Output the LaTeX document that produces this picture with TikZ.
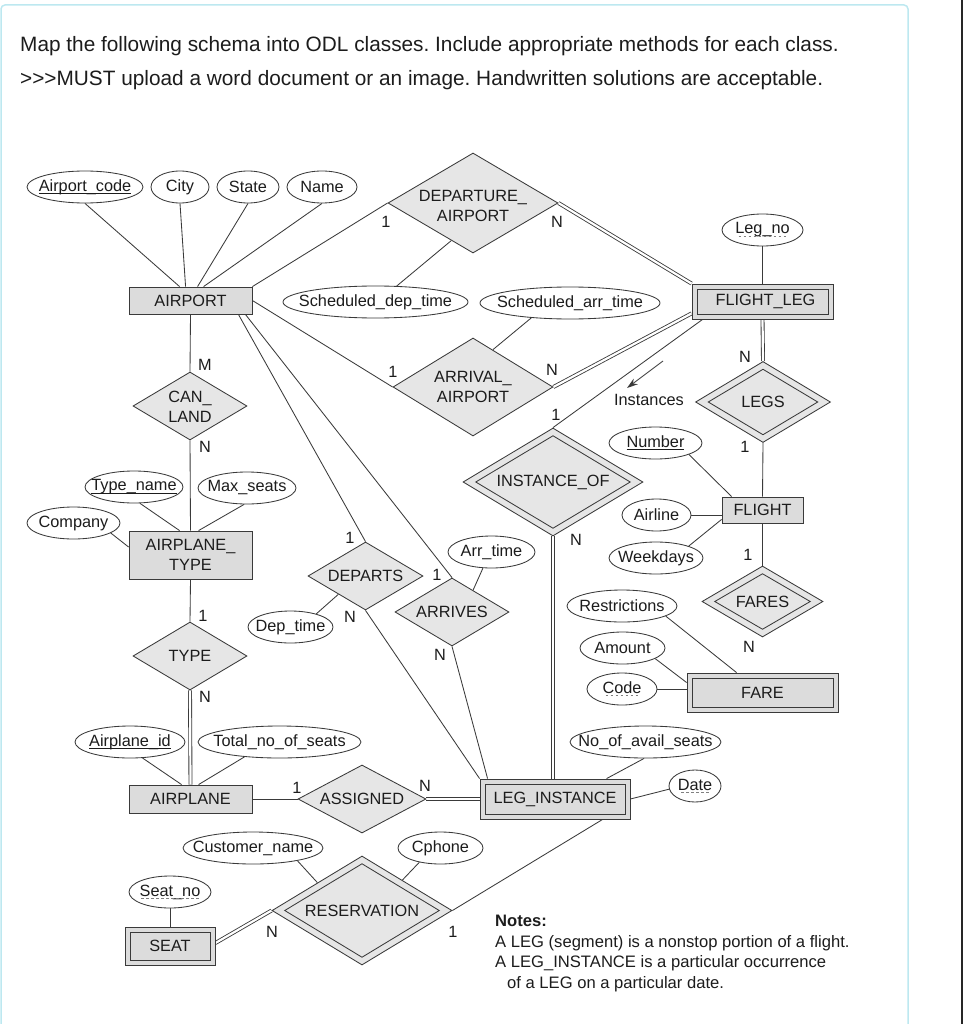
\documentclass[tikz,border=0pt]{standalone}
\usepackage{fontspec}
\setmainfont{Liberation Sans}
\usetikzlibrary{shapes.geometric,arrows.meta,backgrounds}

\definecolor{linec}{HTML}{3A3A3A}
\definecolor{txtc}{HTML}{1C1C1C}
\definecolor{entfill}{HTML}{DCDCDC}
\definecolor{relfill}{HTML}{E6E6E6}
\definecolor{framec}{HTML}{BDE8F0}

\newcommand{\dfont}{\fontsize{16.3pt}{20.5pt}\selectfont}
\newcommand{\hfont}{\fontsize{20.8pt}{24pt}\selectfont}
\newcommand{\nfont}{\fontsize{16.6pt}{20.5pt}\selectfont}
% solid and dashed underlines
\newcommand{\keyul}[1]{\setbox0\hbox{#1}\copy0\llap{\vrule height -2pt depth 2.9pt width\wd0}}
\newcommand{\pkeyul}[1]{\setbox0\hbox{#1}\copy0\llap{\hbox to\wd0{\color{gray}\cleaders\hbox{\kern1.1pt\vrule height -2pt depth 2.9pt width 2.8pt\kern1.1pt}\hfill}}}

\begin{document}
\frenchspacing
\begin{tikzpicture}[x=1pt,y=-1pt,
  every node/.style={text=txtc},
  lbl/.style={font=\dfont, align=center, inner sep=0pt},
  attr/.style={ellipse, draw=linec, fill=white, line width=0.85pt, inner sep=0pt, minimum height=32pt},
  entity/.style={rectangle, draw=linec, fill=entfill, line width=0.85pt, inner sep=0pt},
  wentity/.style={entity, path picture={\draw[linec, line width=0.85pt]
      ([shift={(5pt,-5pt)}]path picture bounding box.north west) rectangle
      ([shift={(-5pt,5pt)}]path picture bounding box.south east);}},
  rel/.style={diamond, draw=linec, fill=relfill, line width=0.85pt, inner sep=0pt},
  wrel/.style={rel, path picture={\draw[linec, line width=0.85pt]
      ([xshift=12.6pt]path picture bounding box.west) --
      ([yshift=-7.6pt]path picture bounding box.north) --
      ([xshift=-12.6pt]path picture bounding box.east) --
      ([yshift=7.6pt]path picture bounding box.south) -- cycle;}},
  conn/.style={draw=linec, line width=0.85pt},
  dbl/.style={conn, double=white, double distance=2.2pt},
  card/.style={font=\dfont, inner sep=0pt},
  note/.style={font=\nfont, inner sep=0pt, anchor=base west},
]
\useasboundingbox (0,0) rectangle (965,1024);

% frame
\draw[framec, line width=1.5pt, rounded corners=4pt] (1,5) rectangle (908,1040);
\draw[black!85, line width=2pt] (962,0) -- (962,1024);

% header
\node[anchor=west, font=\hfont, inner sep=0pt] (h1) at (20,46) {Map the following schema into ODL classes. Include appropriate methods for each class.};
\node[anchor=west, font=\hfont, inner sep=0pt] (h2) at (20,80) {>{}>{}>MUST upload a word document or an image. Handwritten solutions are acceptable.};

% entities
\node[entity, minimum width=123pt, minimum height=27pt, label={[lbl]center:{AIRPORT}}] (airport) at (190.5,300.5) {};
\node[wentity, minimum width=141pt, minimum height=35pt, label={[lbl, xshift=3pt]center:{FLIGHT\_LEG}}] (fl) at (762.5,301.5) {};
\node[entity, minimum width=123pt, minimum height=48pt, label={[lbl]center:{AIRPLANE\_\\TYPE}}] (apt) at (190.5,555) {};
\node[entity, minimum width=81pt, minimum height=26pt, label={[lbl]center:{FLIGHT}}] (flight) at (762.5,510) {};
\node[wentity, minimum width=151pt, minimum height=39pt, label={[lbl]center:{FARE}}] (fare) at (762.5,692.5) {};
\node[entity, minimum width=123pt, minimum height=28pt, label={[lbl]center:{AIRPLANE}}] (airplane) at (190.5,799) {};
\node[wentity, minimum width=150pt, minimum height=40pt, label={[lbl]center:{LEG\_INSTANCE}}] (li) at (555,799) {};
\node[wentity, minimum width=90pt, minimum height=38pt, label={[lbl]center:{SEAT}}] (seat) at (170,946) {};

% relationships
\node[rel, minimum width=170pt, minimum height=100pt, label={[lbl, yshift=-3pt]center:{DEPARTURE\_\\AIRPORT}}] (dep) at (473,203) {};
\node[rel, minimum width=160pt, minimum height=98pt, label={[lbl]center:{ARRIVAL\_\\AIRPORT}}] (arr) at (473,387) {};
\node[rel, minimum width=114pt, minimum height=68pt, label={[lbl, yshift=-1pt]center:{CAN\_\\LAND}}] (canland) at (190,406) {};
\node[rel, minimum width=114pt, minimum height=68pt, label={[lbl]center:{TYPE}}] (type) at (190,656) {};
\node[rel, minimum width=115pt, minimum height=68pt, label={[lbl]center:{DEPARTS}}] (departs) at (365.5,576) {};
\node[rel, minimum width=114pt, minimum height=68pt, label={[lbl]center:{ARRIVES}}] (arrives) at (452,612) {};
\node[rel, minimum width=128pt, minimum height=68pt, label={[lbl]center:{ASSIGNED}}] (assigned) at (362,799) {};
\node[wrel, minimum width=135pt, minimum height=81pt, label={[lbl]center:{LEGS}}] (legs) at (763,402) {};
\node[wrel, minimum width=180pt, minimum height=108pt, label={[lbl]center:{INSTANCE\_OF}}] (io) at (553,482) {};
\node[wrel, minimum width=121pt, minimum height=71pt, label={[lbl]center:{FARES}}] (fares) at (762.5,601.5) {};
\node[wrel, minimum width=180pt, minimum height=109pt, label={[lbl]center:{RESERVATION}}] (res) at (362,910.5) {};

% attributes
\node[attr, minimum width=116pt, label={[lbl]center:{\keyul{Airport\_code}}}] (aircode) at (85,187) {};
\node[attr, minimum width=58pt, label={[lbl]center:{City}}] (city) at (180,187) {};
\node[attr, minimum width=62pt, label={[lbl]center:{State}}] (state) at (248,187) {};
\node[attr, minimum width=70pt, label={[lbl]center:{Name}}] (name) at (322,187) {};
\node[attr, minimum width=185pt, label={[lbl]center:{Scheduled\_dep\_time}}] (sdt) at (375.5,302) {};
\node[attr, minimum width=180pt, label={[lbl]center:{Scheduled\_arr\_time}}] (sarr) at (570,303) {};
\node[attr, minimum width=81pt, label={[lbl]center:{\pkeyul{Leg\_no}}}] (legno) at (762.5,230) {};
\node[attr, minimum width=98pt, label={[lbl]center:{\keyul{Type\_name}}}] (tname) at (134,487) {};
\node[attr, minimum width=98pt, label={[lbl]center:{Max\_seats}}] (maxs) at (247,488) {};
\node[attr, minimum width=93pt, label={[lbl]center:{Company}}] (company) at (73.5,523) {};
\node[attr, minimum width=85pt, label={[lbl]center:{Dep\_time}}] (dept) at (290.5,627) {};
\node[attr, minimum width=87pt, label={[lbl]center:{Arr\_time}}] (arrt) at (491.5,552) {};
\node[attr, minimum width=93pt, label={[lbl]center:{\keyul{Number}}}] (number) at (655.5,443) {};
\node[attr, minimum width=69pt, label={[lbl]center:{Airline}}] (airline) at (656.5,515) {};
\node[attr, minimum width=94pt, label={[lbl]center:{Weekdays}}] (weekdays) at (656,558) {};
\node[attr, minimum width=110pt, label={[lbl]center:{Restrictions}}] (restr) at (622,606) {};
\node[attr, minimum width=85pt, label={[lbl]center:{Amount}}] (amount) at (622.5,648) {};
\node[attr, minimum width=70pt, label={[lbl]center:{\pkeyul{Code}}}] (code) at (622,689) {};
\node[attr, minimum width=110pt, label={[lbl]center:{\keyul{Airplane\_id}}}] (apid) at (130,742) {};
\node[attr, minimum width=163pt, label={[lbl]center:{Total\_no\_of\_seats}}] (tot) at (279.5,742) {};
\node[attr, minimum width=151pt, label={[lbl]center:{No\_of\_avail\_seats}}] (noas) at (645.5,742) {};
\node[attr, minimum width=52pt, label={[lbl]center:{\pkeyul{Date}}}] (date) at (695,786) {};
\node[attr, minimum width=140pt, label={[lbl]center:{Customer\_name}}] (cname) at (253,848) {};
\node[attr, minimum width=85pt, label={[lbl]center:{Cphone}}] (cphone) at (440.5,848) {};
\node[attr, minimum width=82pt, label={[lbl]center:{\pkeyul{Seat\_no}}}] (seatno) at (170,892) {};

% cardinalities
\node[card] (c1) at (386,222) {1};
\node[card] (c2) at (557,222) {N};
\node[card] (c3) at (393,372) {1};
\node[card] (c4) at (552,370) {N};
\node[card] (c5) at (205,365) {M};
\node[card] (c6) at (205,447) {N};
\node[card] (c7) at (203,616) {1};
\node[card] (c8) at (205,697) {N};
\node[card] (c9) at (350,538) {1};
\node[card] (c10) at (350,617) {N};
\node[card] (c11) at (437,575) {1};
\node[card] (c12) at (440,655) {N};
\node[card] (c13) at (556,415) {1};
\node[card] (c14) at (576,540) {N};
\node[card] (c15) at (745,357) {N};
\node[card] (c16) at (745,447) {1};
\node[card] (c17) at (748,555) {1};
\node[card] (c18) at (749,647) {N};
\node[card] (c19) at (297,788) {1};
\node[card] (c20) at (425,786) {N};
\node[card] (c21) at (272,932) {N};
\node[card] (c22) at (453,932) {1};

% instances arrow
\coordinate (insA) at (663,361);
\coordinate (insB) at (627,388);
\draw[conn, -{Stealth[length=11pt, width=7pt]}] (insA) -- (insB);
\node[card] (inst) at (649,400) {Instances};

% notes
\node[note, font=\nfont\bfseries] (n1) at (495,926.5) {Notes:};
\node[note] (n2) at (495,947) {A LEG (segment) is a nonstop portion of a flight.};
\node[note] (n3) at (495,967.5) {A LEG\_INSTANCE is a particular occurrence};
\node[note] (n4) at (507,988) {of a LEG on a particular date.};

% connectors
\begin{scope}[on background layer]
\draw[conn] (aircode.south) -- ([xshift=51pt]airport.north west);
\draw[conn] (city.south) -- ([xshift=57pt]airport.north west);
\draw[conn] (state.south) -- ([xshift=69pt]airport.north west);
\draw[conn] (name.south) -- ([xshift=75pt]airport.north west);
\draw[conn] (airport.north east) -- (dep.west);
\draw[conn] (sdt.37) -- (dep.240);
\draw[dbl] (dep.east) -- (fl.north west);
\draw[conn] (legno.south) -- (fl.north);
\draw[conn] (sarr.201) -- (arr.62);
\draw[conn] (airport.east) -- (arr.west);
\draw[dbl] (arr.east) -- ([yshift=6pt]fl.south west);
\draw[conn] ([xshift=11pt]fl.south west) -- (io.north);
\draw[dbl] (fl.south) -- (legs.north);
\draw[conn] (legs.south) -- (flight.north);
\draw[conn] (number.-19) -- ([xshift=10pt]flight.north west);
\draw[conn] (airline.east) -- (airline.east -| flight.west);
\draw[conn] (weekdays.20) -- ([yshift=4pt]flight.south west);
\draw[conn] (flight.south) -- (fares.north);
\draw[dbl] (fares.south) -- (fare.north);
\draw[conn] (restr.-13) -- ([xshift=50pt]fare.north west);
\draw[conn] (amount.-18) -- ([yshift=10pt]fare.west);
\draw[conn] (code.east) -- (code.east -| fare.west);
\draw[conn] ([xshift=-14pt]airport.south east) -- (departs.north);
\draw[conn] ([xshift=-7pt]airport.south east) -- (arrives.north);
\draw[conn] (airport.south) -- (canland.north);
\draw[conn] (canland.south) -- (apt.north);
\draw[conn] (tname.-70) -- ([xshift=51pt]apt.north west);
\draw[conn] (maxs.-100) -- ([xshift=70pt]apt.north west);
\draw[conn] (company.-15) -- ([yshift=8pt]apt.west);
\draw[conn] (apt.south) -- (type.north);
\draw[dbl] (type.south) -- (airplane.north);
\draw[conn] (apid.-52) -- ([xshift=53pt]airplane.north west);
\draw[conn] (tot.203) -- ([xshift=70pt]airplane.north west);
\draw[conn] (airplane.east) -- (assigned.west);
\draw[dbl] (assigned.east) -- (li.west);
\draw[conn] (dept.27) -- (departs.214);
\draw[conn] (departs.south) -- (li.north west);
\draw[conn] (arrt.-118) -- (arrives.46);
\draw[conn] (arrives.south) -- ([xshift=8pt]li.north west);
\draw[dbl] (io.south) -- (io.south |- li.north);
\draw[conn] (noas.-95) -- ([xshift=127pt]li.north west);
\draw[conn] (date.187) -- (li.east);
\draw[conn] (seatno.south) -- (seat.north);
\draw[dbl] ([yshift=3pt]seat.east) -- (res.west);
\draw[conn] (res.east) -- ([xshift=123pt]li.south west);
\draw[conn] (cname.-16) -- (res.148);
\draw[conn] (cphone.214) -- (res.37);
\end{scope}
\end{tikzpicture}
\end{document}
